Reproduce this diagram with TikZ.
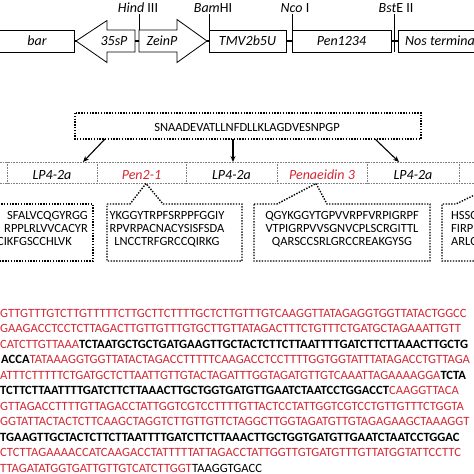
\documentclass[tikz,border=0pt]{standalone}
\usepackage{fontspec}
\setmainfont{Carlito}
\usetikzlibrary{arrows.meta}
\definecolor{seqred}{RGB}{214,40,52}
\begin{document}
\begin{tikzpicture}[x=1pt,y=-1pt,
  box/.style={draw=black,line width=0.8pt,fill=white},
  lbl/.style={font=\fontsize{14}{16}\selectfont\itshape,inner sep=0pt,anchor=base},
  site/.style={font=\fontsize{14}{16}\selectfont,inner sep=0pt,anchor=base},
  sitel/.style={line width=0.8pt},
  link/.style={line width=2.6pt},
  dotbox/.style={draw=black,line width=1.4pt,dash pattern=on 1.4pt off 1.4pt},
  segline/.style={draw=black!50,line width=0.6pt,dash pattern=on 0.8pt off 0.8pt},
  seglbl/.style={font=\fontsize{14}{16}\selectfont\itshape,inner sep=0pt,anchor=base},
  pepl/.style={font=\fontsize{12.5}{12.75}\selectfont,inner sep=0pt,anchor=base},
  seq/.style={font=\fontsize{12.6}{14}\selectfont,inner sep=0pt,anchor=base west},
  arr/.style={-{Stealth[length=6pt,width=5pt]},line width=1.1pt}
]
\useasboundingbox (0,0) rectangle (474,474);
\fill[white] (0,0) rectangle (474,474);
\clip (0,0) rectangle (474,474);

% ---------- construct ----------
\draw[box] (-10,30) rectangle (74,52);
\node[lbl] (bar) at (37,45.5) {bar};
\draw[box] (76,41) -- (107,20.5) -- (107,30) -- (135,30) -- (135,52) -- (107,52) -- (107,62.5) -- cycle;
\node[lbl] (p35) at (114,45.5) {35sP};
\draw[box] (139,30) -- (177,30) -- (177,19.5) -- (207,41) -- (177,62.5) -- (177,52) -- (139,52) -- cycle;
\node[lbl] (zein) at (162,45.5) {ZeinP};
\draw[box] (209,30) rectangle (286,52);
\node[lbl] (tmv) at (247.5,45.5) {TMV2b5U};
\draw[box] (292,30) rectangle (391,52);
\node[lbl] (pen) at (341.5,45.5) {Pen1234};
\draw[box] (398,30) rectangle (490,52);
\node[lbl,anchor=base west] (nos) at (405,45.5) {Nos terminator};

\coordinate (barE) at (74,41);   \coordinate (p35tip) at (77,41);
\coordinate (p35E) at (135,41);  \coordinate (zeinW) at (139,41);
\coordinate (zeinTip) at (207,41); \coordinate (tmvW) at (209,41);
\coordinate (tmvE) at (286,41);  \coordinate (penW) at (292,41);
\coordinate (penE) at (391,41);  \coordinate (nosW) at (398,41);
\draw[link] (barE) -- (p35tip);
\draw[link] (p35E) -- (zeinW);
\draw[link] (zeinTip) -- (tmvW);
\draw[link] (tmvE) -- (penW);
\draw[link] (penE) -- (nosW);

\node[site] (hind) at (138,12) {\textit{Hind} III};
\node[site] (bam) at (213,12) {\textit{Bam}HI};
\node[site] (nco) at (295,12) {\textit{Nco} I};
\node[site] (bst) at (396,12) {\textit{Bst}E II};
\coordinate (hindB) at (139,30); \coordinate (bamB) at (209,30);
\coordinate (ncoB) at (292,30);  \coordinate (bstB) at (394.5,52);
\draw[sitel] (139,14) -- (hindB);
\draw[sitel] (209,14) -- (bamB);
\draw[sitel] (292,14) -- (ncoB);
\draw[sitel] (394.5,14) -- (bstB);

% ---------- peptide cassette ----------
\draw[dotbox] (75,113) rectangle (421,139);
\node[pepl] (p2a) at (247,131) {SNAADEVATLLNFDLLKLAGDVESNPGP};

\draw[segline] (-5,162) -- (480,162);
\draw[segline] (-5,183) -- (480,183);
\foreach \xx in {7,97,186,277,367,459} \draw[segline] (\xx,162) -- (\xx,183);
\node[seglbl] (seg1) at (52,179.5) {LP4-2a};
\node[seglbl,text=seqred] (seg2) at (141.5,179.5) {Pen2-1};
\node[seglbl] (seg3) at (231.5,179.5) {LP4-2a};
\node[seglbl,text=seqred] (seg4) at (322,179.5) {Penaeidin 3};
\node[seglbl] (seg5) at (413,179.5) {LP4-2a};

\coordinate (a1s) at (105,139); \coordinate (a1e) at (83,162);
\coordinate (a2s) at (233,139); \coordinate (a2e) at (233,162);
\coordinate (a3s) at (375,139); \coordinate (a3e) at (399,162);
\draw[arr] (a1s) -- (a1e);
\draw[arr] (a2s) -- (a2e);
\draw[arr] (a3s) -- (a3e);

% callout boxes
\draw[dotbox] (-10,204) -- (93,204) -- (93,261) -- (-10,261);
\draw[dotbox] (107,204) -- (130,204) -- (146,183.5) -- (163,204) -- (242,204) -- (242,261) -- (107,261) -- cycle;
\draw[dotbox] (254,204) -- (277,204) -- (316,183.5) -- (327,204) -- (430,204) -- (430,261) -- (254,261) -- cycle;
\draw[dotbox] (485,261) -- (442,261) -- (442,204) -- (456,204) -- (498,183.5);

\node[pepl,anchor=base east] (b1a) at (88,219.5) {SFALVCQGYRGG};
\node[pepl,anchor=base east] (b1b) at (88,232.2) {RPPLRLVVCACYR};
\node[pepl,anchor=base east] (b1c) at (72,245) {CIKFGSCCHLVK};
\node[pepl] (b2a) at (167,219.5) {YKGGYTRPFSRPPFGGIY};
\node[pepl] (b2b) at (167,232.2) {RPVRPACNACYSISFSDA};
\node[pepl] (b2c) at (167,245) {LNCCTRFGRCCQIRKG};
\node[pepl] (b3a) at (342,219.5) {QGYKGGYTGPVVRPFVRPIGRPF};
\node[pepl] (b3b) at (342,232.2) {VTPIGRPVVSGNVCPLSCRGITTL};
\node[pepl] (b3c) at (342,245) {QARSCCSRLGRCCREAKGYSG};
\node[pepl,anchor=base west] (b4a) at (451,219.5) {HSSC};
\node[pepl,anchor=base west] (b4b) at (451,232.2) {FIRP};
\node[pepl,anchor=base west] (b4c) at (451,245) {ARLC};

% ---------- sequence ----------
\node[seq,text=seqred] (s1) at (0,317.3) {GTTGTTTGTCTTGTTTTTCTTGCTTCTTTTGCTCTTGTTTGTCAAGGTTATAGAGGTGGTTATACTGGCC};
\node[seq,text=seqred] (s2) at (0,332.8) {GAAGACCTCCTCTTAGACTTGTTGTTTGTGCTTGTTATAGACTTTCTGTTTCTGATGCTAGAAATTGTT};
\node[seq] (s3) at (0,348.3) {{\color{seqred}CATCTTGTTAAA}\textbf{TCTAATGCTGCTGATGAAGTTGCTACTCTTCTTAATTTTGATCTTCTTAAACTTGCTG}};
\node[seq] (s4) at (1,363.8) {\textbf{ACCA}{\color{seqred}TATAAAGGTGGTTATACTAGACCTTTTTCAAGACCTCCTTTTGGTGGTATTTATAGACCTGTTAGA}};
\node[seq] (s5) at (0,379.3) {{\color{seqred}ATTTCTTTTTCTGATGCTCTTAATTGTTGTACTAGATTTGGTAGATGTTGTCAAATTAGAAAAGGA}\textbf{TCTA}};
\node[seq] (s6) at (0,394.8) {\textbf{TCTTCTTAATTTTGATCTTCTTAAACTTGCTGGTGATGTTGAATCTAATCCTGGACCT}{\color{seqred}CAAGGTTACA}};
\node[seq,text=seqred] (s7) at (0,410.3) {GTTAGACCTTTTGTTAGACCTATTGGTCGTCCTTTTGTTACTCCTATTGGTCGTCCTGTTGTTTCTGGTA};
\node[seq,text=seqred] (s8) at (0,425.8) {GGTATTACTACTCTTCAAGCTAGGTCTTGTTGTTCTAGGCTTGGTAGATGTTGTAGAGAAGCTAAAGGT};
\node[seq] (s9) at (0,441.3) {\textbf{TGAAGTTGCTACTCTTCTTAATTTTGATCTTCTTAAACTTGCTGGTGATGTTGAATCTAATCCTGGAC}};
\node[seq,text=seqred] (s10) at (0,456.8) {CTCTTAGAAAACCATCAAGACCTATTTTTATTAGACCTATTGGTTGTGATGTTTGTTATGGTATTCCTTC};
\node[seq,text=seqred] (s11a) at (0,472.3) {TTAGATATGGTGATTGTTGTCATCTTGGT};
\fill[black!20] ([yshift=-2pt]s11a.base east) rectangle (262,474);
\node[seq] (s11b) at (s11a.base east) {TAAGGTGACC};
\end{tikzpicture}
\end{document}
